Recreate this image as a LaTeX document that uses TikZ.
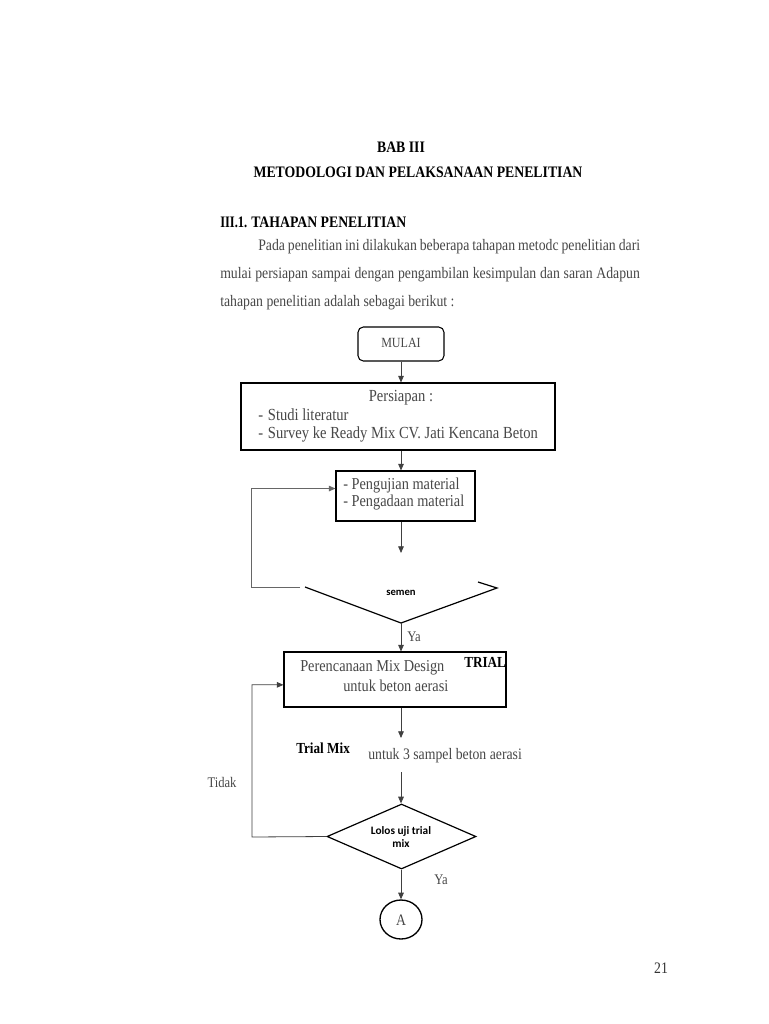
\documentclass[tikz,border=0pt]{standalone}
\usepackage{fontspec}
\setmainfont{Liberation Serif}
\newfontfamily\sansb{Carlito}
\usetikzlibrary{arrows.meta,shapes.geometric}
\newcommand{\sq}[1]{\scalebox{0.86}[1]{#1}}
\begin{document}
\begin{tikzpicture}[x=0.75pt,y=-0.75pt,
  txt/.style={inner sep=0pt, text=black!72, font=\fontsize{12}{14}\selectfont},
  boxtxt/.style={inner sep=0pt, text=black!72, font=\fontsize{12.5}{14}\selectfont},
  perstxt/.style={inner sep=0pt, text=black!72, font=\fontsize{12.7}{15}\selectfont},
  hd/.style={inner sep=0pt, text=black, font=\fontsize{12}{14}\selectfont\bfseries},
  sanslbl/.style={inner sep=0pt, text=black, font=\sansb\fontsize{8.5}{10}\selectfont\bfseries},
  boxnode/.style={draw=black, line width=0.8pt, inner sep=0pt},
  conn/.style={draw=black!75, line width=0.6pt, -{Triangle[length=5pt,width=4.2pt]}},
  loopline/.style={draw=black!60, line width=0.6pt}]
\useasboundingbox (0,0) rectangle (768,1024);
\fill[white] (0,0) rectangle (768,1024);

% headings
\node[hd] (bab) at (401,147) {\sq{BAB III}};
\node[hd] (judul) at (418,172) {\sq{METODOLOGI DAN PELAKSANAAN PENELITIAN}};
\node[hd, anchor=west] (nomor) at (220,222) {\scalebox{0.78}[1]{III.1.}};
\node[hd, anchor=west] (sub) at (251,222) {\sq{TAHAPAN PENELITIAN}};

% paragraph
\node[txt, anchor=west] (p1) at (258,247) {\sq{\makebox[333pt][s]{Pada penelitian ini dilakukan beberapa tahapan metodc penelitian dari}}};
\node[txt, anchor=west] (p2) at (220,275) {\sq{\makebox[366pt][s]{mulai persiapan sampai dengan pengambilan kesimpulan dan saran Adapun}}};
\node[txt, anchor=west] (p3) at (220,303) {\sq{tahapan penelitian adalah sebagai berikut :}};

% flowchart boxes
\node[boxnode, rounded corners=4pt, minimum width=64.5pt, minimum height=25.5pt] (mulai) at (401,344) {};
\node[txt, font=\fontsize{10.5}{12}\selectfont] (mulait) at (401,343) {\sq{MULAI}};

\node[boxnode, minimum width=235.5pt, minimum height=50.25pt] (persiapan) at (398,416.5) {};
\node[perstxt] (pers1) at (401,398) {\sq{Persiapan :}};
\node[perstxt, anchor=west] (pers2) at (258,415) {\sq{-\,\,Studi literatur}};
\node[perstxt, anchor=west] (pers3) at (258,434) {\sq{-\,\,Survey ke Ready Mix CV. Jati Kencana Beton}};

\node[boxnode, minimum width=104.25pt, minimum height=37.5pt] (uji) at (405.5,496) {};
\node[boxtxt, anchor=west] (uji1) at (343,486) {\sq{- Pengujian material}};
\node[boxtxt, anchor=west] (uji2) at (343,503) {\sq{- Pengadaan material}};

% broken diamond (semen)
\coordinate (sL) at (305,587);
\coordinate (sB) at (401,623);
\coordinate (sR) at (497,588);
\coordinate (sT) at (478,582);
\coordinate (loopA) at (300,587);
\draw[black, line width=0.9pt] (sL) -- (sB) -- (sR) -- (sT);
\node[sanslbl, font=\sansb\fontsize{8}{10}\selectfont\bfseries] (semen) at (401,593) {semen};

\node[boxnode, minimum width=166.5pt, minimum height=41.25pt] (rencana) at (395,679.5) {};
\node[boxtxt, anchor=west] (ren1) at (300,668) {\sq{Perencanaan Mix Design}};
\node[boxtxt, anchor=west] (ren2) at (343,686) {\sq{untuk beton aerasi}};
\node[hd, anchor=west, font=\fontsize{11.5}{13}\selectfont\bfseries] (trial) at (464,662) {\sq{TRIAL}};

\node[hd, anchor=west, font=\fontsize{11.5}{13}\selectfont\bfseries] (trialmix) at (296,748) {\sq{Trial Mix}};
\node[txt, anchor=west] (sampel) at (368,756) {\sq{untuk 3 sampel beton aerasi}};

\node[draw=black, line width=0.9pt, shape=diamond, inner sep=0pt, minimum width=111.75pt, minimum height=48.75pt] (lolos) at (401.5,836.5) {};
\node[sanslbl, align=center, font=\sansb\fontsize{8.5}{9.5}\selectfont\bfseries] (lolost) at (401,837) {Lolos uji trial\\mix};

\node[draw=black, line width=1pt, shape=ellipse, inner sep=0pt, minimum width=31.5pt, minimum height=29.25pt] (A) at (401,919.5) {};
\node[txt, font=\fontsize{12}{14}\selectfont] (At) at (401,920) {\sq{A}};

% labels
\node[txt, font=\fontsize{11}{13}\selectfont] (ya1) at (414,637) {\sq{Ya}};
\node[txt, font=\fontsize{11}{13}\selectfont] (ya2) at (441,880) {\sq{Ya}};
\node[txt, font=\fontsize{11}{13}\selectfont] (tidak) at (222,782) {\sq{Tidak}};
\node[txt, text=black!80] (hal) at (661,968) {\sq{21}};

% free ends
\coordinate (c1) at (401,553);
\coordinate (c2) at (401,738);
\coordinate (c3) at (401,772);

% connectors
\draw[conn] (mulai.south) -- (mulai.south |- persiapan.north);
\draw[conn] (persiapan.south -| mulai) -- (mulai |- uji.north);
\draw[conn] (uji.south -| mulai) -- (c1);
\draw[loopline, -{Triangle[length=5pt,width=4.2pt]}] (loopA) -- (251,587) |- ([yshift=5.6pt]uji.west);
\draw[conn] (sB) -- (sB |- rencana.north);
\draw[conn] (rencana.south -| mulai) -- (c2);
\draw[conn] (c3) -- (lolos.north -| mulai);
\draw[conn] (lolos.west) -- (252,837) |- ([yshift=-4pt]rencana.west);
\draw[conn] (lolos.south -| mulai) -- (A.north);
\end{tikzpicture}
\end{document}
